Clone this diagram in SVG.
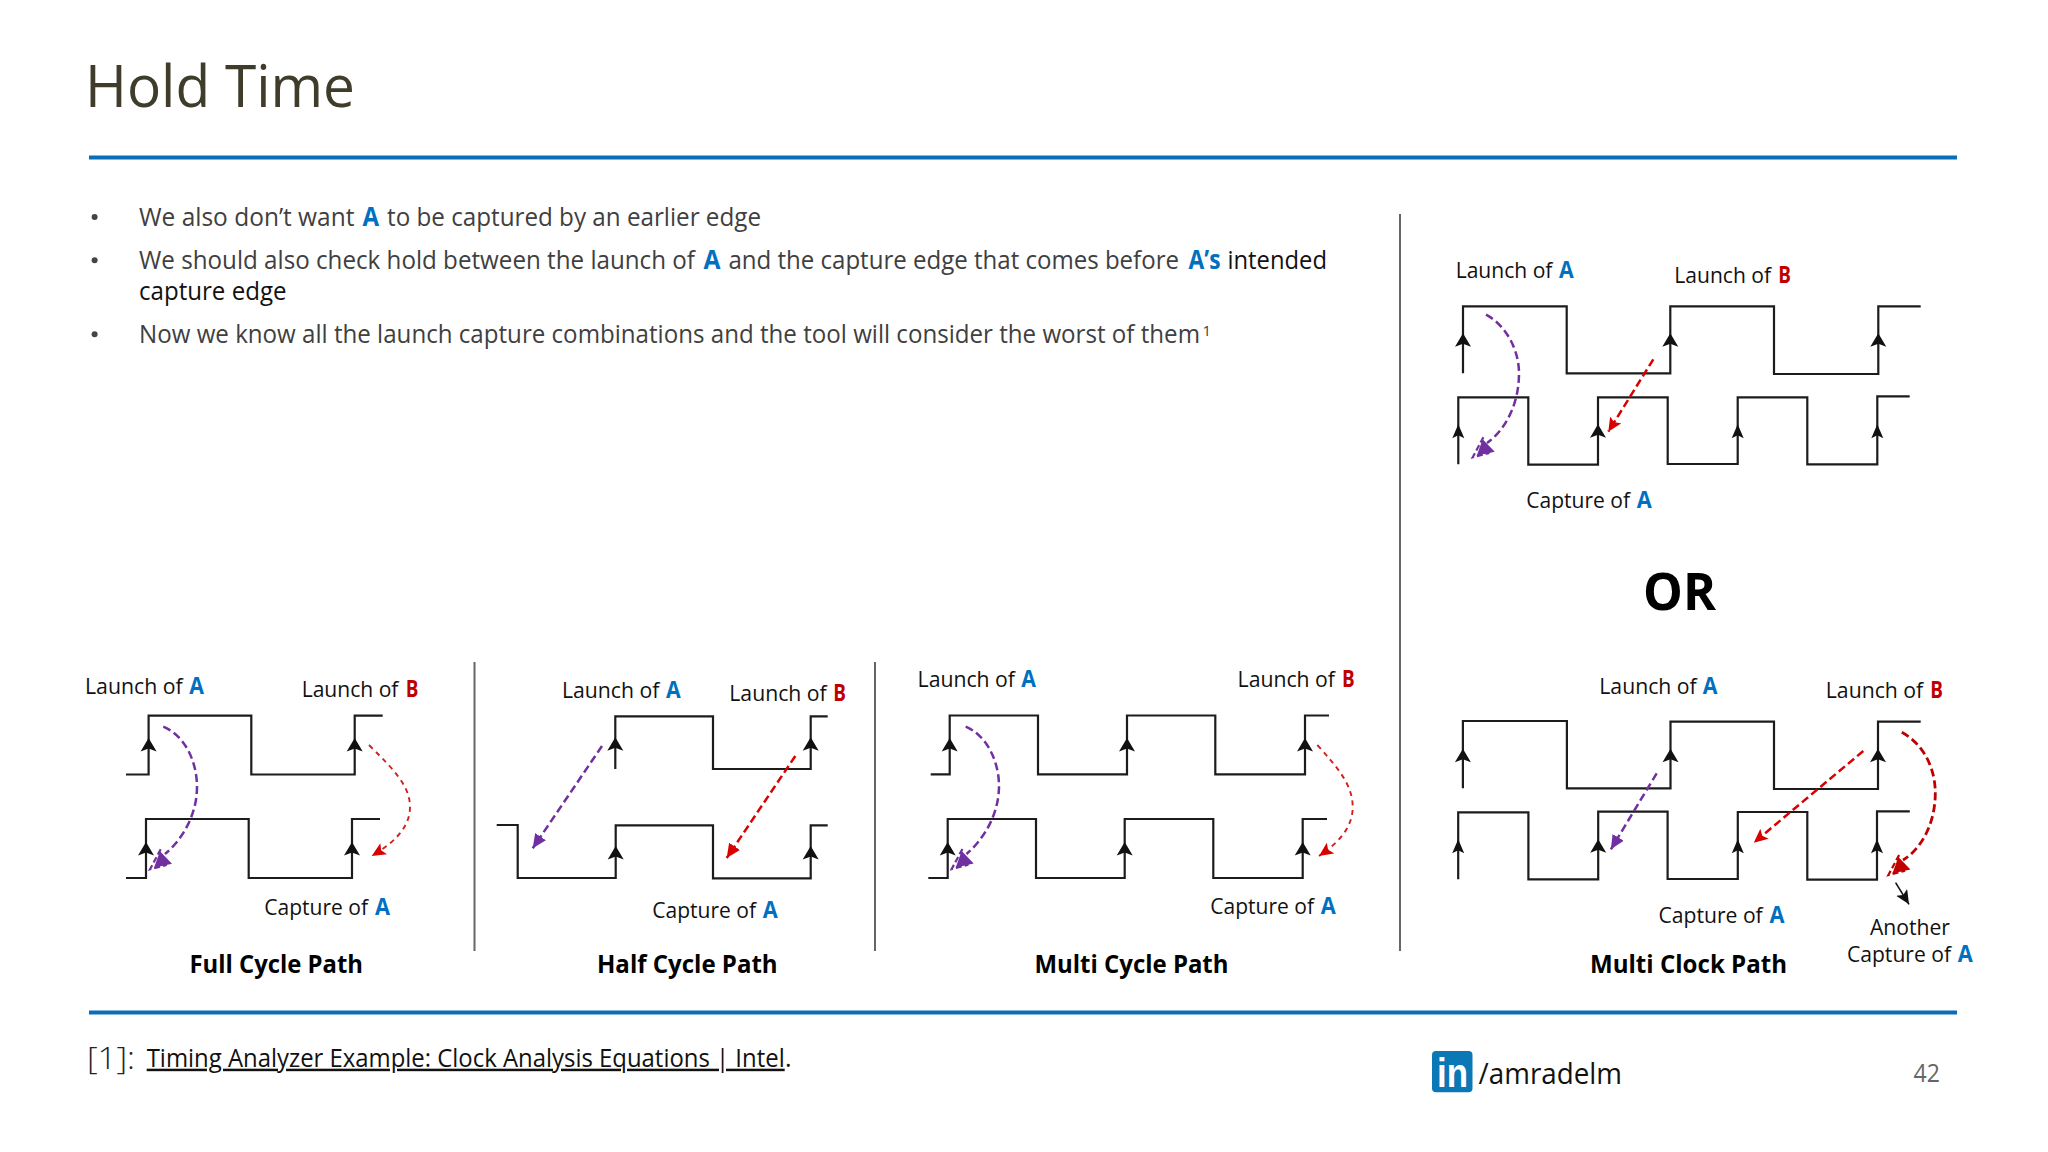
<svg xmlns="http://www.w3.org/2000/svg" width="2048" height="1152" viewBox="0 0 2048 1152">
<style>
text{font-family:"Open Sans","Noto Sans","Liberation Sans",sans-serif}
.rule{stroke:#0b6cb8;stroke-width:4;fill:none}
.sep{stroke:#666;stroke-width:2;fill:none}
.w{fill:none;stroke:#1c1c1c;stroke-width:2.2;stroke-linejoin:miter}
.body{font-size:25px;fill:#404040}
.k{fill:#111}
.l{font-size:22px;fill:#111}
.a{font-weight:700;fill:#0070c0;font-size:1.08em}
.b{font-weight:700;fill:#c00000;font-size:1.08em}
.cap{font-size:25px;font-weight:700;fill:#000}
.pa{fill:none;stroke:#7030a0;stroke-width:2.5;stroke-dasharray:8 4}
.ra{fill:none;stroke:#d90000;stroke-width:2.5;stroke-dasharray:8 4}
.rt{fill:none;stroke:#d02020;stroke-width:1.9;stroke-dasharray:5 4.5}
.gp{color:#7030a0}
.gr{color:#c00000}
</style>
<defs>
<path id="up" d="M0,0L8,13.5L0,10.5L-8,13.5Z" fill="#111"/>
<path id="ups" d="M0,0L6,14L0,11L-6,14Z" fill="#111"/>
<g id="ghost">
<path d="M10.7,-20L0,0L16.7,-4.3" fill="none" stroke="currentColor" stroke-width="2.2" stroke-dasharray="6 3"/>
<path d="M10,-18L22,-5.5L4,-1.5Z" fill="currentColor"/>
</g>
<marker id="mp" markerUnits="userSpaceOnUse" markerWidth="16" markerHeight="14" refX="14" refY="6.5" orient="auto"><path d="M0,0L14,6.5L0,13Z" fill="#7030a0"/></marker>
<marker id="mr" markerUnits="userSpaceOnUse" markerWidth="16" markerHeight="14" refX="14" refY="6.5" orient="auto"><path d="M0,0L14,6.5L0,13Z" fill="#d90000"/></marker>
<marker id="mn" markerUnits="userSpaceOnUse" markerWidth="16" markerHeight="14" refX="14" refY="6.5" orient="auto"><path d="M0,0L14,6.5L0,13L3,6.5Z" fill="#d90000"/></marker>
<marker id="mk" markerUnits="userSpaceOnUse" markerWidth="16" markerHeight="14" refX="14" refY="6.5" orient="auto"><path d="M0,0L14,6.5L0,13L3,6.5Z" fill="#111"/></marker>
</defs>
<rect width="2048" height="1152" fill="#fff"/>

<g id="header">
<text x="85" y="107" font-size="58" font-weight="400" fill="#3f3c2b" textLength="270" lengthAdjust="spacingAndGlyphs">Hold Time</text>
<path class="rule" d="M89,157.5H1957"/>
</g>

<g id="bullets">
<circle cx="94.6" cy="217" r="3" fill="#444"/><circle cx="94.6" cy="260.3" r="3" fill="#444"/><circle cx="94.6" cy="334.3" r="3" fill="#444"/>
<text class="body" y="226"><tspan x="139" textLength="215.4" lengthAdjust="spacingAndGlyphs">We also don’t want</tspan><tspan class="a" x="362.4" textLength="16.6" lengthAdjust="spacingAndGlyphs">A</tspan><tspan x="387" textLength="374" lengthAdjust="spacingAndGlyphs">to be captured by an earlier edge</tspan></text>
<text class="body" y="269"><tspan x="139" textLength="556" lengthAdjust="spacingAndGlyphs">We should also check hold between the launch of</tspan><tspan class="a" x="703.5" textLength="17" lengthAdjust="spacingAndGlyphs">A</tspan><tspan x="728.4" textLength="450.6" lengthAdjust="spacingAndGlyphs">and the capture edge that comes before</tspan><tspan class="a" x="1188.5" textLength="32" lengthAdjust="spacingAndGlyphs">A’s</tspan><tspan class="k" x="1227.5" textLength="99.5" lengthAdjust="spacingAndGlyphs">intended</tspan></text>
<text class="body k" x="139" y="300" textLength="147.5" lengthAdjust="spacingAndGlyphs">capture edge</text>
<text class="body" y="343.3"><tspan x="139" textLength="1061" lengthAdjust="spacingAndGlyphs">Now we know all the launch capture combinations and the tool will consider the worst of them</tspan><tspan x="1202.5" y="335.5" font-size="15">1</tspan></text>
</g>

<g id="separators">
<path class="sep" d="M474.5,662V951M875,662V951M1400,214V951"/>
</g>

<g id="top-right-panel">
<path class="w" d="M1463,373.3V306.3H1566.7V373.3H1670.3V306.3H1774V374H1878.3V306.3H1920.7"/>
<path class="w" d="M1458.3,464.3V397.3H1528.3V464.7H1598V397.3H1667.7V464H1737.7V397.3H1807.3V464.3H1877.3V396.3H1909.7"/>
<use href="#up" x="1463" y="333.3"/><use href="#up" x="1670.3" y="333.3"/><use href="#up" x="1878.3" y="333.3"/>
<use href="#ups" x="1458.3" y="424.3"/><use href="#up" x="1598" y="424.3"/><use href="#ups" x="1737.7" y="424.3"/><use href="#ups" x="1877.3" y="424.3"/>
<text class="l" y="278.3"><tspan x="1455.7" textLength="96.7" lengthAdjust="spacingAndGlyphs">Launch of</tspan><tspan class="a" x="1559" textLength="14.7" lengthAdjust="spacingAndGlyphs">A</tspan></text>
<text class="l" y="282.7"><tspan x="1674.3" textLength="96.7" lengthAdjust="spacingAndGlyphs">Launch of</tspan><tspan class="b" x="1778.3" textLength="12.7" lengthAdjust="spacingAndGlyphs">B</tspan></text>
<text class="l" y="508.3"><tspan x="1526.3" textLength="103.7" lengthAdjust="spacingAndGlyphs">Capture of</tspan><tspan class="a" x="1636.7" textLength="15" lengthAdjust="spacingAndGlyphs">A</tspan></text>
</g>

<text id="or-label" x="1643" y="610" font-size="52" font-weight="700" fill="#000" textLength="73" lengthAdjust="spacingAndGlyphs">OR</text>

<g id="full-cycle-panel">
<path class="w" d="M126,774.5H148.6V715.7H251.3V774.5H354.7V715.7H382.7"/>
<path class="w" d="M126,878H146V819H248.7V878H352V819H380"/>
<use href="#up" x="148.6" y="738"/><use href="#up" x="354.7" y="738"/><use href="#up" x="146" y="842"/><use href="#up" x="352" y="842"/>
<text class="l" y="694.3"><tspan x="85" textLength="97.7" lengthAdjust="spacingAndGlyphs">Launch of</tspan><tspan class="a" x="189.3" textLength="14.7" lengthAdjust="spacingAndGlyphs">A</tspan></text>
<text class="l" y="697"><tspan x="301.7" textLength="96.7" lengthAdjust="spacingAndGlyphs">Launch of</tspan><tspan class="b" x="405.7" textLength="12.7" lengthAdjust="spacingAndGlyphs">B</tspan></text>
<text class="l" y="915"><tspan x="264.3" textLength="103.7" lengthAdjust="spacingAndGlyphs">Capture of</tspan><tspan class="a" x="375" textLength="15" lengthAdjust="spacingAndGlyphs">A</tspan></text>
<text class="cap" x="189.5" y="972.7" textLength="173.5" lengthAdjust="spacingAndGlyphs">Full Cycle Path</text>
</g>

<g id="half-cycle-panel">
<path class="w" d="M615.3,769V716.3H713V769H810.7V716.3H827.7"/>
<path class="w" d="M496.7,825H517.7V878H615.7V825.3H713V878.3H810.7V825.3H827.7"/>
<use href="#up" x="615.3" y="737.3"/><use href="#up" x="810.7" y="737.3"/><use href="#up" x="615.7" y="846"/><use href="#up" x="810.7" y="846"/>
<text class="l" y="698.3"><tspan x="562" textLength="97.4" lengthAdjust="spacingAndGlyphs">Launch of</tspan><tspan class="a" x="666" textLength="14.7" lengthAdjust="spacingAndGlyphs">A</tspan></text>
<text class="l" y="700.7"><tspan x="729.3" textLength="97.4" lengthAdjust="spacingAndGlyphs">Launch of</tspan><tspan class="b" x="833.3" textLength="12.7" lengthAdjust="spacingAndGlyphs">B</tspan></text>
<text class="l" y="918.3"><tspan x="652.3" textLength="103.7" lengthAdjust="spacingAndGlyphs">Capture of</tspan><tspan class="a" x="762.7" textLength="15" lengthAdjust="spacingAndGlyphs">A</tspan></text>
<text class="cap" x="597" y="972.7" textLength="180.6" lengthAdjust="spacingAndGlyphs">Half Cycle Path</text>
</g>

<g id="multi-cycle-panel">
<path class="w" d="M930.7,774.3H949.7V715.5H1038V774.3H1127V715.5H1215.3V774.3H1305V715.5H1329"/>
<path class="w" d="M928.3,878H947.7V819H1036V878H1124.7V819H1213.3V878H1302.7V819H1327"/>
<use href="#up" x="949.7" y="738"/><use href="#up" x="1127" y="738"/><use href="#up" x="1305" y="738"/>
<use href="#up" x="947.7" y="842"/><use href="#up" x="1124.7" y="842"/><use href="#up" x="1302.7" y="842"/>
<text class="l" y="687.3"><tspan x="917.6" textLength="97.4" lengthAdjust="spacingAndGlyphs">Launch of</tspan><tspan class="a" x="1021.3" textLength="14.7" lengthAdjust="spacingAndGlyphs">A</tspan></text>
<text class="l" y="687.3"><tspan x="1237.6" textLength="97.4" lengthAdjust="spacingAndGlyphs">Launch of</tspan><tspan class="b" x="1342" textLength="12.7" lengthAdjust="spacingAndGlyphs">B</tspan></text>
<text class="l" y="914"><tspan x="1210.3" textLength="103.7" lengthAdjust="spacingAndGlyphs">Capture of</tspan><tspan class="a" x="1320.7" textLength="15" lengthAdjust="spacingAndGlyphs">A</tspan></text>
<text class="cap" x="1034.5" y="972.7" textLength="194" lengthAdjust="spacingAndGlyphs">Multi Cycle Path</text>
</g>

<g id="multi-clock-panel">
<path class="w" d="M1462.9,788.3V721H1566.9V788.3H1670.5V721.7H1774V789H1878V721.7H1920.7"/>
<path class="w" d="M1458.2,879.3V812.3H1528.4V879.3H1598.2V811.7H1667.6V879H1737.8V812H1807.3V879.7H1877V811.3H1909.8"/>
<use href="#up" x="1462.9" y="748.7"/><use href="#up" x="1670.5" y="748.7"/><use href="#up" x="1878" y="748.7"/>
<use href="#ups" x="1458.2" y="839.3"/><use href="#up" x="1598.2" y="839.3"/><use href="#ups" x="1737.8" y="839.3"/><use href="#ups" x="1877" y="839.3"/>
<text class="l" y="694"><tspan x="1599.3" textLength="97.4" lengthAdjust="spacingAndGlyphs">Launch of</tspan><tspan class="a" x="1702.8" textLength="14.7" lengthAdjust="spacingAndGlyphs">A</tspan></text>
<text class="l" y="698"><tspan x="1825.8" textLength="97.4" lengthAdjust="spacingAndGlyphs">Launch of</tspan><tspan class="b" x="1930.3" textLength="12.7" lengthAdjust="spacingAndGlyphs">B</tspan></text>
<text class="l" y="923"><tspan x="1658.5" textLength="104.2" lengthAdjust="spacingAndGlyphs">Capture of</tspan><tspan class="a" x="1769.4" textLength="15" lengthAdjust="spacingAndGlyphs">A</tspan></text>
<text class="l" x="1870" y="935" textLength="80" lengthAdjust="spacingAndGlyphs">Another</text>
<text class="l" y="961.7"><tspan x="1847" textLength="104" lengthAdjust="spacingAndGlyphs">Capture of</tspan><tspan class="a" x="1957.7" textLength="15" lengthAdjust="spacingAndGlyphs">A</tspan></text>
<text class="cap" x="1590" y="972.7" textLength="197" lengthAdjust="spacingAndGlyphs">Multi Clock Path</text>
</g>

<g id="connectors">
<path class="pa" d="M163.3,726.7C186,736 197,763 197,787C197,815 182,840 165,854"/>
<use class="gp" href="#ghost" x="150" y="869.3"/>
<path class="rt" marker-end="url(#mn)" d="M369,745C392,768 410,785 410,807C410,830 390,845 371.7,856"/>
<path class="pa" marker-end="url(#mp)" d="M602,746L532.7,848.3"/>
<path class="ra" marker-end="url(#mr)" d="M795.3,756L726.7,858"/>
<path class="pa" d="M965.7,726.7C988,736 999,763 999,786C999,815 983,840 966.5,854"/>
<use class="gp" href="#ghost" x="951.7" y="869"/>
<path class="rt" marker-end="url(#mn)" d="M1317.3,745C1338,768 1352.7,785 1352.7,807C1352.7,830 1335,845 1319,856"/>
<path class="pa" d="M1486,314.7C1506,325 1519,350 1519,373C1519,405 1505,430 1487,443"/>
<use class="gp" href="#ghost" x="1472.7" y="457.3"/>
<path class="ra" marker-end="url(#mn)" d="M1653.3,359.3L1608.3,431.7"/>
<path class="pa" marker-end="url(#mp)" d="M1656.7,773.3L1610.9,849.3"/>
<path class="ra" marker-end="url(#mn)" d="M1863.3,751L1753.8,842.7"/>
<path class="ra" style="stroke:#c00000;stroke-width:2.8" d="M1901.8,732.3C1925,745 1935.3,770 1935.3,793C1935.3,825 1920,850 1903,860"/>
<use class="gr" href="#ghost" x="1888.4" y="875"/>
<path fill="none" stroke="#111" stroke-width="1.6" marker-end="url(#mk)" d="M1895.6,882.7L1909,904.3"/>
</g>

<g id="footer">
<path class="rule" d="M89,1012.5H1957"/>
<text y="1066.7" font-size="25" fill="#111"><tspan x="87" y="1069" font-size="31" font-weight="300" fill="#222" textLength="48" lengthAdjust="spacingAndGlyphs">[1]:</tspan><tspan x="146.7" y="1066.7" textLength="638" lengthAdjust="spacingAndGlyphs" text-decoration="underline">Timing Analyzer Example: Clock Analysis Equations | Intel</tspan><tspan x="785">.</tspan></text>
<rect x="1432" y="1051" width="40.5" height="41.3" rx="4" fill="#0a78b5"/>
<text x="1437" y="1086.7" font-size="40" font-weight="700" fill="#fff" textLength="31" lengthAdjust="spacingAndGlyphs" style="font-family:'Liberation Sans',sans-serif">in</text>
<text x="1478.6" y="1084.3" font-size="30" fill="#111" textLength="143.4" lengthAdjust="spacingAndGlyphs">/amradelm</text>
<text x="1913.6" y="1082.3" font-size="25" fill="#666" textLength="26.4" lengthAdjust="spacingAndGlyphs">42</text>
</g>
</svg>
